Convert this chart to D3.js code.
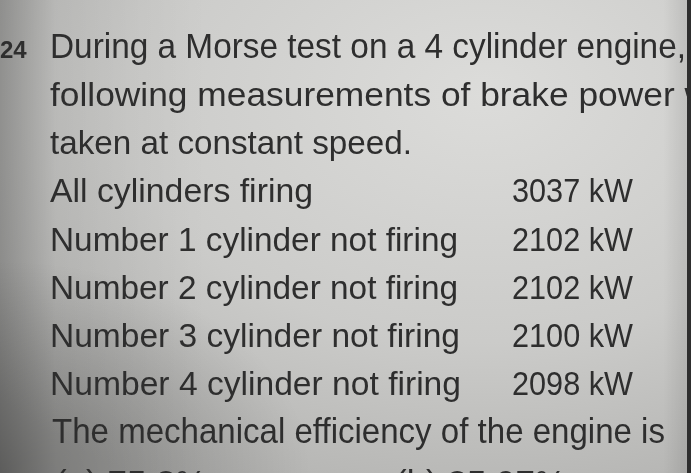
<!DOCTYPE html>
<html>
<head>
<meta charset="utf-8">
<script src="https://cdn.jsdelivr.net/npm/d3@7"></script>
<style>
  html,body{margin:0;padding:0;background:#cbcbc9;overflow:hidden;}
  svg{display:block;}
</style>
</head>
<body>
<svg id="page" width="691" height="473"></svg>
<script>
// ===== data =====
const questionNo = "24";
const introLines = [
  "During a Morse test on a 4 cylinder engine,",
  "following measurements of brake power w",
  "taken at constant speed."
];
const conditions = [
  "All cylinders firing",
  "Number 1 cylinder not firing",
  "Number 2 cylinder not firing",
  "Number 3 cylinder not firing",
  "Number 4 cylinder not firing"
];
const powerKW = [3037, 2102, 2102, 2100, 2098];
const closingLine = "The mechanical efficiency of the engine is";
const answers = ["(a) 75.8%", "(b) 85.97%"];

// ===== setup =====
const W = 691, H = 473;
const svg = d3.select("#page");
const defs = svg.append("defs");

// paper shading: light top-right, darker towards left and bottom-left
const rg = defs.append("radialGradient").attr("id","paper")
  .attr("cx","70%").attr("cy","20%").attr("r","95%");
rg.append("stop").attr("offset","0%").attr("stop-color","#dcdcda");
rg.append("stop").attr("offset","55%").attr("stop-color","#cbcbc9");
rg.append("stop").attr("offset","100%").attr("stop-color","#b0b0ae");
const lg = defs.append("linearGradient").attr("id","edge").attr("x1","0").attr("x2","1");
lg.append("stop").attr("offset","0%").attr("stop-color","#000").attr("stop-opacity",0.25);
lg.append("stop").attr("offset","8%").attr("stop-color","#000").attr("stop-opacity",0.06);
lg.append("stop").attr("offset","30%").attr("stop-color","#000").attr("stop-opacity",0);
lg.append("stop").attr("offset","96%").attr("stop-color","#000").attr("stop-opacity",0);
lg.append("stop").attr("offset","99%").attr("stop-color","#000").attr("stop-opacity",0.08);
const bl = defs.append("radialGradient").attr("id","corner")
  .attr("cx","0%").attr("cy","100%").attr("r","45%");
bl.append("stop").attr("offset","0%").attr("stop-color","#000").attr("stop-opacity",0.3);
bl.append("stop").attr("offset","100%").attr("stop-color","#000").attr("stop-opacity",0);
defs.append("filter").attr("id","soft")
  .append("feGaussianBlur").attr("stdDeviation",0.5);

svg.append("rect").attr("width",W).attr("height",H).attr("fill","url(#paper)");
svg.append("rect").attr("width",W).attr("height",H).attr("fill","url(#edge)");
svg.append("rect").attr("width",W).attr("height",H).attr("fill","url(#corner)");
// dark page edge on the right
svg.append("rect").attr("x",W-4).attr("width",4).attr("height",H).attr("fill","#2e2e2e");

// line index -> baseline
const y = d3.scaleLinear().domain([0, 8]).range([58, 443]);
const ink = "#2e2e2e";
const font = "'Liberation Sans', Arial, sans-serif";

const g = svg.append("g").attr("filter","url(#soft)")
  .attr("fill", ink).style("font-family", font).style("font-size","33px");

g.append("text").attr("x", 0).attr("y", y(0))
  .attr("font-weight","bold").style("font-size","24px")
  .text(questionNo);

const introW = [636, 660, 362];
g.selectAll("text.intro").data(introLines).join("text")
  .attr("class","intro")
  .attr("x", 50).attr("y", (d,i) => y(i))
  .style("font-size", (d,i) => i === 0 ? "35px" : "33px")
  .attr("textLength", (d,i) => introW[i]).attr("lengthAdjust","spacingAndGlyphs")
  .text(d => d);

const condW = [263, 408, 408, 410, 411];
g.selectAll("text.cond").data(conditions).join("text")
  .attr("class","cond")
  .attr("x", 50).attr("y", (d,i) => y(i + 3))
  .attr("textLength", (d,i) => condW[i]).attr("lengthAdjust","spacingAndGlyphs")
  .text(d => d);

g.selectAll("text.val").data(powerKW).join("text")
  .attr("class","val")
  .attr("x", 633).attr("y", (d,i) => y(i + 3))
  .attr("text-anchor","end")
  .attr("textLength", 121).attr("lengthAdjust","spacingAndGlyphs")
  .text(d => d + " kW");

g.append("text").attr("x", 52).attr("y", y(8))
  .style("font-size","35px")
  .attr("textLength", 613).attr("lengthAdjust","spacingAndGlyphs")
  .text(closingLine);

// answer line, cut off by the bottom edge as in the photo
g.selectAll("text.ans").data(answers).join("text")
  .attr("class","ans")
  .attr("x", (d,i) => i === 0 ? 55 : 395)
  .attr("y", y(8) + 52)
  .style("font-size","35px")
  .text(d => d);
</script>
</body>
</html>
